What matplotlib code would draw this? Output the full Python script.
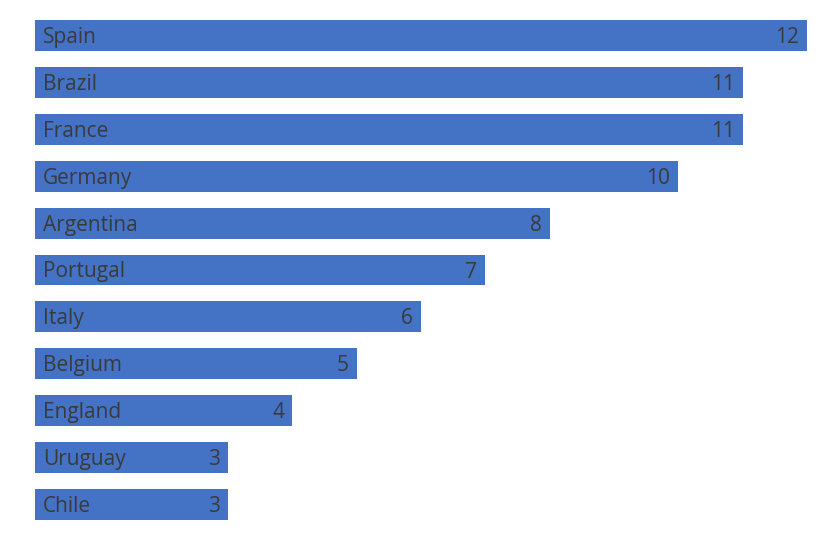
import matplotlib.pyplot as plt
from matplotlib.transforms import offset_copy

countries = ['Spain', 'Brazil', 'France', 'Germany', 'Argentina', 'Portugal',
             'Italy', 'Belgium', 'England', 'Uruguay', 'Chile']
values = [12, 11, 11, 10, 8, 7, 6, 5, 4, 3, 3]

plt.rcParams['font.family'] = ['Open Sans', 'DejaVu Sans']

W, H = 840, 538
fig = plt.figure(figsize=(W / 100, H / 100), dpi=100)
# axes placed in pixel terms: bars from x=35 (0) to x=807 (12), rows from y=20 to y=520
ax = fig.add_axes([35 / W, (H - 520) / H, (807 - 35) / W, 500 / H])

h = 0.66
pos = list(range(len(countries)))
ax.barh(pos, values, height=h, color='#4472C4')
ax.set_xlim(0, 12)
ax.set_ylim(len(countries) - 1 + h / 2, -h / 2)
ax.axis('off')

txt = '#3a3a3a'
for p, c, v in zip(pos, countries, values):
    ax.text(0, p, c, transform=offset_copy(ax.transData, fig=fig, x=8, y=-2, units='dots'),
            ha='left', va='center', fontsize=15, color=txt)
    ax.text(v, p, str(v), transform=offset_copy(ax.transData, fig=fig, x=-8, y=-2, units='dots'),
            ha='right', va='center', fontsize=15, color=txt)

fig.savefig('out.png', dpi=100)
